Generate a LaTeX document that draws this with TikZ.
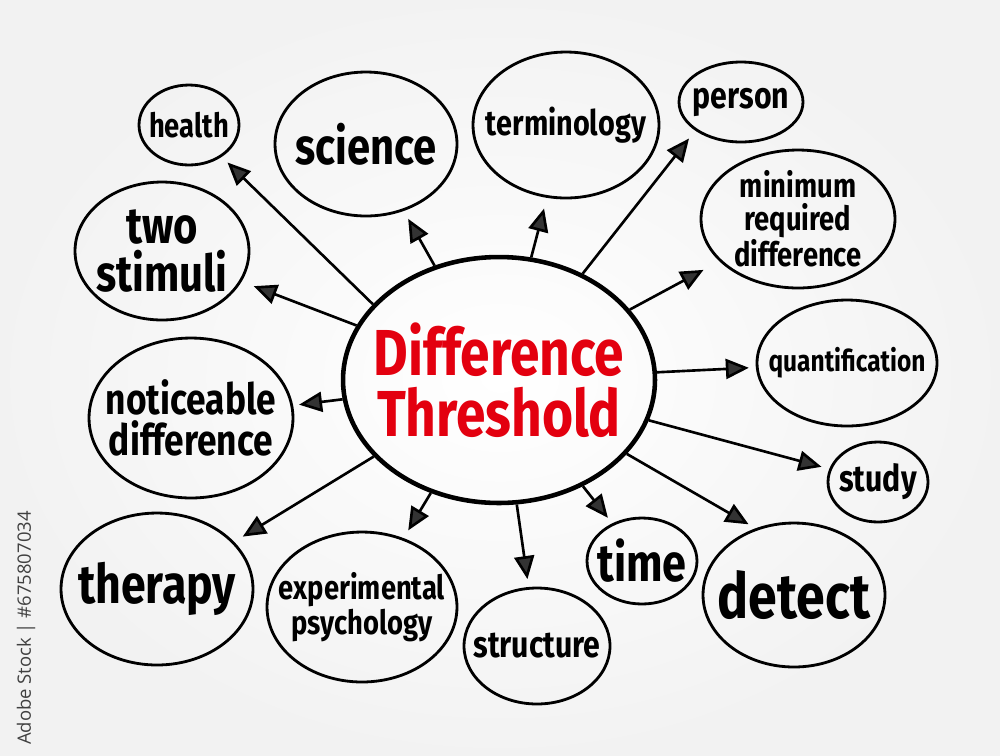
\documentclass[tikz,border=0pt]{standalone}
\usepackage{fontspec}
\setmainfont{Fira Sans}
\newfontfamily\hand[FakeStretch=0.82]{Fira Sans}
\newfontfamily\credfont{Open Sans}
\usepackage{tikz}
\usepackage{xcolor}
\usetikzlibrary{arrows.meta, shapes.geometric, positioning}
\definecolor{markred}{HTML}{E3000F}

\begin{document}
\begin{tikzpicture}[x=0.02cm, y=-0.02cm,
    bubble/.style 2 args={draw, ellipse, line width=1.6pt, inner sep=0pt, minimum width=#1cm, minimum height=#2cm},
    word/.style 2 args={font=\hand\bfseries\fontsize{#1}{#2}\selectfont, align=center, text=black},
    spoke/.style={-{Triangle[length=4.6mm, width=4mm, fill=black!80]}, line width=1.5pt, shorten >=#1},
    spoke/.default=1.6mm]
        % paper
        \shade[inner color=white, outer color=black!5] (0,0) rectangle (1000,755);
        \useasboundingbox (0,0) rectangle (1000,755);
        % centre
        \node[bubble={6.24}{4.92}, line width=2.6pt, label={[word={37}{35}, text=markred]center:{Difference\\Threshold}}] (dt) at (499,380) {};
        % ideas round it
        \node[bubble={2}{1.6}, label={[word={19}{20}]center:health}] (health) at (189,125) {};
        \node[bubble={3.64}{2.88}, label={[word={29}{30}]center:science}] (science) at (366,144) {};
        \node[bubble={3.72}{2.92}, label={[word={20}{20}]center:terminology}] (terminology) at (566,125) {};
        \node[bubble={2.48}{1.6}, label={[word={21}{20}]center:person}] (person) at (741,102) {};
        \node[bubble={3.88}{2.76}, label={[word={19}{18.5}]center:{minimum\\required\\difference}}] (minimum) at (798,219) {};
        \node[bubble={3.48}{2.76}, label={[word={29}{27}]center:{two\\stimuli}}] (stimuli) at (162,251) {};
        \node[bubble={3.6}{2.52}, label={[word={17}{20}]center:quantification}] (quant) at (847,363) {};
        \node[bubble={4.08}{3.2}, label={[word={24.5}{23}]center:{noticeable\\difference}}] (noticeable) at (191,418) {};
        \node[bubble={2}{1.6}, label={[word={21}{20}]center:study}] (study) at (878,482) {};
        \node[bubble={3.84}{3.04}, label={[word={31}{30}]center:therapy}] (therapy) at (157,589) {};
        \node[bubble={3.8}{3}, label={[word={19}{16}]center:{experimental\\psychology}}] (experimental) at (362,607) {};
        \node[bubble={2.2}{1.72}, label={[word={30}{30}]center:time}] (time) at (642,561) {};
        \node[bubble={2.92}{2.32}, label={[word={21}{20}]center:structure}] (structure) at (537,646) {};
        \node[bubble={3.64}{2.88}, label={[word={36}{30}]center:detect}] (detect) at (794,595) {};
        % arrows
        \foreach \from/\to/\gap in
        {dt.149/health/1.6mm, dt/science/1.8mm, dt/terminology/2.2mm, dt/person.212/2mm,
         dt/minimum/3.6mm, dt/stimuli/2.6mm, dt/quant/1.4mm, dt/noticeable/1.2mm,
         dt/study/1.6mm, dt/therapy/2mm, dt/experimental/1.8mm, dt/structure/1.6mm,
         dt/time/1.4mm, dt/detect.120/1.6mm}
        \draw[spoke=\gap] (\from) -- (\to);
        % credit line
        \node[rotate=90, font=\credfont\fontsize{10.5}{12}\selectfont, text=black!75] (credit) at (26,628) {Adobe Stock | \#675807034};
\end{tikzpicture}
\end{document}
